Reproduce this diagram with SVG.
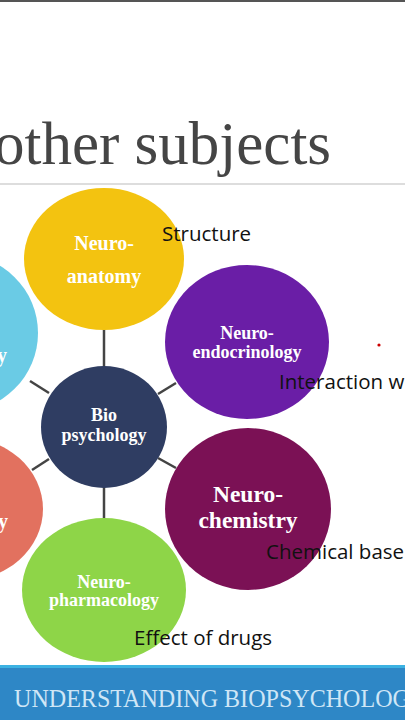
<svg xmlns="http://www.w3.org/2000/svg" width="405" height="720" viewBox="0 0 405 720">
<style>
.ct{font-family:"Liberation Serif",serif;font-weight:bold;fill:#fff;text-anchor:middle}
.lb{font-family:"Open Sans","Liberation Sans",sans-serif;font-size:20.5px;fill:#111}
.con{stroke:#444;stroke-width:2.5}
</style>
<rect width="405" height="720" fill="#fff"/>
<rect x="0" y="0" width="405" height="2" fill="#555"/>
<text x="-6" y="164" font-family="Liberation Serif,serif" font-size="61" fill="#454545">other subjects</text>
<rect x="0" y="183" width="405" height="2" fill="#ddd"/>
<g id="connectors">
<line class="con" x1="104" y1="328" x2="104" y2="367"/>
<line class="con" x1="104" y1="486" x2="104" y2="520"/>
<line class="con" x1="158" y1="394" x2="176" y2="383"/>
<line class="con" x1="158" y1="458" x2="176" y2="468"/>
<line class="con" x1="30" y1="381" x2="49" y2="393"/>
<line class="con" x1="32" y1="470" x2="49" y2="459"/>
</g>
<g id="left-top"><ellipse cx="-42" cy="333" rx="80" ry="79" fill="#6ACBE5"/><text class="ct" x="2" y="362" font-size="20">y</text></g>
<g id="left-bottom"><ellipse cx="-38" cy="509" rx="81" ry="72" fill="#E2715F"/><text class="ct" x="3" y="528" font-size="20">y</text></g>
<g id="neuroanatomy"><ellipse cx="104" cy="259" rx="80" ry="71" fill="#F3C310"/><text class="ct" x="104" y="250" font-size="20" fill="#FFF6D0">Neuro-</text><text class="ct" x="104" y="283" font-size="20">anatomy</text></g>
<g id="neuroendocrinology"><ellipse cx="247" cy="342" rx="82" ry="77" fill="#6A1EA6"/><text class="ct" x="247" y="339" font-size="18">Neuro-</text><text class="ct" x="247" y="358" font-size="18">endocrinology</text></g>
<g id="biopsychology"><ellipse cx="104" cy="427" rx="63" ry="61" fill="#2F3D62"/><text class="ct" x="104" y="421" font-size="18">Bio</text><text class="ct" x="104" y="441" font-size="18">psychology</text></g>
<g id="neurochemistry"><ellipse cx="248" cy="509" rx="83" ry="81" fill="#7B1155"/><text class="ct" x="248" y="502" font-size="23.5">Neuro-</text><text class="ct" x="248" y="528" font-size="23.5">chemistry</text></g>
<g id="neuropharmacology"><ellipse cx="104" cy="590" rx="82" ry="72" fill="#8ED548"/><text class="ct" x="104" y="588" font-size="18">Neuro-</text><text class="ct" x="104" y="606" font-size="18">pharmacology</text></g>
<text class="lb" x="162" y="241">Structure</text>
<text class="lb" x="279" y="389">Interaction w</text>
<text class="lb" x="266" y="559">Chemical base</text>
<text class="lb" x="134" y="645">Effect of drugs</text>
<circle cx="379" cy="345" r="1.6" fill="#C00"/>
<rect x="0" y="665" width="405" height="55" fill="#2E87C6"/>
<rect x="0" y="665" width="405" height="3" fill="#3CB2E2"/>
<text x="14" y="707" font-family="Liberation Serif,serif" font-size="25" fill="#CFE6F6" textLength="396" lengthAdjust="spacingAndGlyphs">UNDERSTANDING BIOPSYCHOLOG</text>
</svg>
